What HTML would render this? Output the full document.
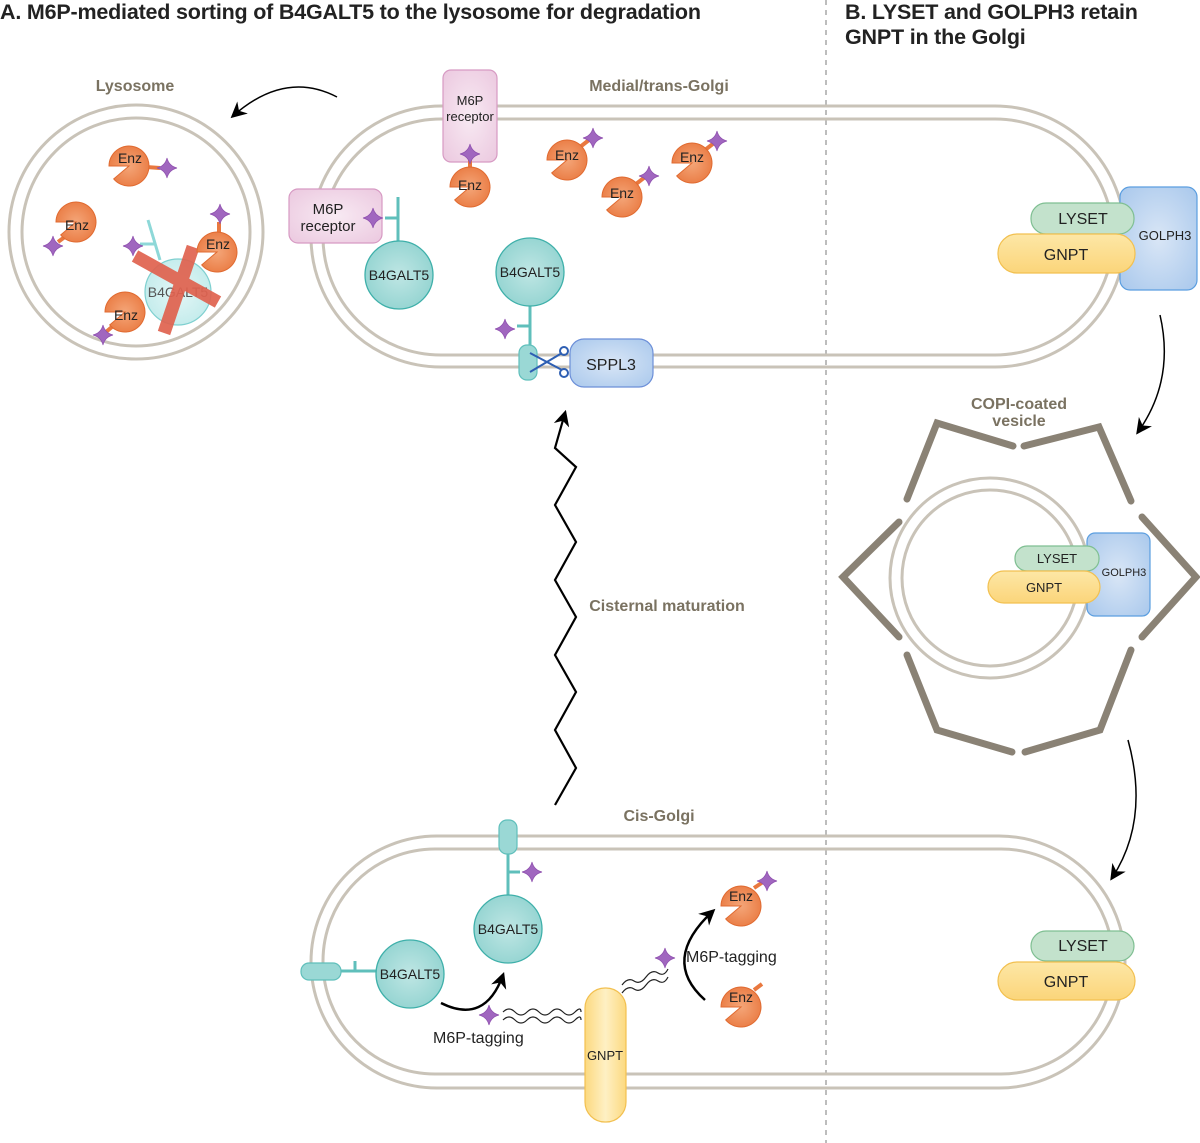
<!DOCTYPE html>
<html><head><meta charset="utf-8"><style>
html,body{margin:0;padding:0;background:#fff;}
svg{display:block;font-family:"Liberation Sans",Arial,sans-serif;}
</style></head><body>
<svg width="1200" height="1143" viewBox="0 0 1200 1143" xmlns="http://www.w3.org/2000/svg">
<defs>
<radialGradient id="cy" cx="50%" cy="50%" r="60%"><stop offset="0" stop-color="#bfe6e4"/><stop offset="1" stop-color="#8fd2cf"/></radialGradient>
<radialGradient id="cyl" cx="50%" cy="50%" r="60%"><stop offset="0" stop-color="#e4f7f7"/><stop offset="1" stop-color="#bfeaea"/></radialGradient>
<radialGradient id="or" cx="50%" cy="50%" r="60%"><stop offset="0" stop-color="#f4a679"/><stop offset="1" stop-color="#e9783f"/></radialGradient>
<radialGradient id="pk" cx="50%" cy="50%" r="70%"><stop offset="0" stop-color="#f8eaf3"/><stop offset="1" stop-color="#ebc8df"/></radialGradient>
<radialGradient id="bl" cx="50%" cy="50%" r="70%"><stop offset="0" stop-color="#d9e6f6"/><stop offset="1" stop-color="#a9c8ec"/></radialGradient>
<linearGradient id="ye" x1="0" y1="0" x2="0" y2="1"><stop offset="0" stop-color="#fde7a6"/><stop offset="1" stop-color="#fbd57a"/></linearGradient>
<linearGradient id="yev" x1="0" y1="0" x2="1" y2="0"><stop offset="0" stop-color="#fcd97f"/><stop offset=".5" stop-color="#fef0c4"/><stop offset="1" stop-color="#fcd97f"/></linearGradient>
<symbol id="pac" viewBox="-21 -21 42 42" overflow="visible"><path d="M0,0 L-15.3,12.9 A20,20 0 1 0 -20,0 Z" fill="url(#or)" stroke="#e06a30" stroke-width="1"/></symbol>
<symbol id="star" viewBox="-9 -9 18 18" overflow="visible"><path d="M0,-9 Q1.8,-1.8 9,0 Q1.8,1.8 0,9 Q-1.8,1.8 -9,0 Q-1.8,-1.8 0,-9Z" fill="#a066bf" stroke="#8e4fae" stroke-width=".6"/></symbol>
<marker id="ah" viewBox="0 0 10 10" refX="8" refY="5" markerWidth="5" markerHeight="5" orient="auto"><path d="M0,0 L10,5 L0,10 L3,5Z" fill="#000"/></marker>
<marker id="ah2" viewBox="0 0 10 10" refX="8" refY="5" markerWidth="9" markerHeight="9" orient="auto" markerUnits="userSpaceOnUse"><path d="M0,0 L10,5 L0,10 L3,5Z" fill="#000"/></marker>
<marker id="ah3" viewBox="0 0 10 10" refX="8" refY="5" markerWidth="16" markerHeight="16" orient="auto" markerUnits="userSpaceOnUse"><path d="M0,0 L10,5 L0,10 L3,5Z" fill="#000"/></marker>
</defs>

<!-- titles -->
<g font-size="21.5" font-weight="bold" fill="#222" style="letter-spacing:-0.2px">
<text x="0" y="19">A. M6P-mediated sorting of B4GALT5 to the lysosome for degradation</text>
<text x="845" y="19">B. LYSET and GOLPH3 retain</text>
<text x="845" y="44">GNPT in the Golgi</text>
</g>
<line x1="826" y1="0" x2="826" y2="1143" stroke="#bdbdbd" stroke-width="2" stroke-dasharray="5,5"/>

<!-- labels -->
<g font-weight="bold" font-size="16" fill="#7a7261">
<text x="135" y="91" text-anchor="middle">Lysosome</text>
<text x="659" y="91" text-anchor="middle">Medial/trans-Golgi</text>
<text x="659" y="821" text-anchor="middle">Cis-Golgi</text>
<text x="667" y="611" text-anchor="middle">Cisternal maturation</text>
<text x="1019" y="409" text-anchor="middle">COPI-coated</text>
<text x="1019" y="426" text-anchor="middle">vesicle</text>
</g>

<!-- lysosome -->
<circle cx="136" cy="232" r="127" fill="none" stroke="#c9c3b8" stroke-width="3"/>
<circle cx="136" cy="232" r="114" fill="none" stroke="#c9c3b8" stroke-width="3"/>

<!-- Golgi cisternae -->
<g fill="none" stroke="#c9c3b8" stroke-width="3">
<rect x="311" y="106" width="814" height="261" rx="130"/>
<rect x="323" y="119" width="790" height="236" rx="118"/>
<rect x="311" y="836" width="814" height="252" rx="126"/>
<rect x="323" y="849" width="790" height="225" rx="112"/>
</g>

<!-- arrows -->
<g fill="none" stroke="#000" stroke-width="2.2">
<path d="M337,97 Q285,70 233,116" marker-end="url(#ah3)" stroke-width="1.5"/>
<path d="M1160,315 Q1175,380 1138,432" marker-end="url(#ah3)" stroke-width="1.5"/>
<path d="M1128,740 Q1150,820 1112,878" marker-end="url(#ah3)" stroke-width="1.5"/>
<path d="M441,1003 Q485,1025 503,975" marker-end="url(#ah3)" stroke-width="2.5"/>
<path d="M705,1000 Q660,960 713,911" marker-end="url(#ah3)" stroke-width="2.5"/>
<path d="M555,805 L576,768 L555,730 L576,692 L555,655 L576,617 L555,580 L576,542 L555,505 L576,467 L555,448 L565,413" marker-end="url(#ah3)"/>
</g>

<!-- COPI coat -->
<g fill="none" stroke="#8a8275" stroke-width="7" stroke-linecap="round" stroke-linejoin="miter">
<polyline points="1013,446 937,423 907,499"/>
<polyline points="1024,446 1099,427 1131,501"/>
<polyline points="899,522 843,577 899,637"/>
<polyline points="1142,517 1196,577 1142,637"/>
<polyline points="907,655 937,730 1012,752"/>
<polyline points="1025,752 1100,730 1131,650"/>
</g>
<circle cx="990" cy="578" r="100" fill="none" stroke="#c9c3b8" stroke-width="3"/>
<circle cx="990" cy="578" r="88" fill="none" stroke="#c9c3b8" stroke-width="3"/>

<!-- Right-side complexes -->
<rect x="1120" y="187" width="77" height="103" rx="10" fill="url(#bl)" stroke="#5b9ee0" stroke-width="1.2"/>
<rect x="1031" y="203" width="103" height="31" rx="15" fill="#c3e2cc" stroke="#7fbf92" stroke-width="1.2"/>
<rect x="998" y="234" width="137" height="39" rx="19" fill="url(#ye)" stroke="#f2c050" stroke-width="1.2"/>
<text x="1083" y="224" font-size="16" text-anchor="middle" fill="#222">LYSET</text>
<text x="1066" y="260" font-size="16" text-anchor="middle" fill="#222">GNPT</text>
<text x="1165" y="240" font-size="13" text-anchor="middle" fill="#222">GOLPH3</text>

<rect x="1087" y="533" width="63" height="83" rx="8" fill="url(#bl)" stroke="#5b9ee0" stroke-width="1.2"/>
<rect x="1015" y="546" width="84" height="25" rx="12" fill="#c3e2cc" stroke="#7fbf92" stroke-width="1.2"/>
<rect x="988" y="571" width="112" height="32" rx="16" fill="url(#ye)" stroke="#f2c050" stroke-width="1.2"/>
<text x="1057" y="563" font-size="13" text-anchor="middle" fill="#222">LYSET</text>
<text x="1044" y="592" font-size="13" text-anchor="middle" fill="#222">GNPT</text>
<text x="1124" y="576" font-size="11" text-anchor="middle" fill="#222">GOLPH3</text>

<rect x="1031" y="931" width="103" height="30" rx="15" fill="#c3e2cc" stroke="#7fbf92" stroke-width="1.2"/>
<rect x="998" y="962" width="137" height="38" rx="19" fill="url(#ye)" stroke="#f2c050" stroke-width="1.2"/>
<text x="1083" y="951" font-size="16" text-anchor="middle" fill="#222">LYSET</text>
<text x="1066" y="987" font-size="16" text-anchor="middle" fill="#222">GNPT</text>

<!-- M6P receptors -->
<rect x="443" y="70" width="54" height="92" rx="8" fill="url(#pk)" stroke="#d79ac3" stroke-width="1.2"/>
<text x="470" y="105" font-size="13" text-anchor="middle" fill="#222">M6P</text>
<text x="470" y="121" font-size="13" text-anchor="middle" fill="#222">receptor</text>
<rect x="289" y="189" width="93" height="54" rx="9" fill="url(#pk)" stroke="#d79ac3" stroke-width="1.2"/>
<text x="328" y="214" font-size="15" text-anchor="middle" fill="#222">M6P</text>
<text x="328" y="231" font-size="15" text-anchor="middle" fill="#222">receptor</text>

<!-- teal stems -->
<g stroke="#5fbfbb" stroke-width="3" fill="none">
<line x1="398" y1="197" x2="398" y2="242"/>
<path d="M398,218 H385"/>
<line x1="530" y1="306" x2="530" y2="350"/>
<path d="M530,326 H517"/>
<line x1="508" y1="840" x2="508" y2="895"/>
<path d="M508,872 H520"/>
<line x1="340" y1="971" x2="378" y2="971"/>
<path d="M355,971 V961"/>
<line x1="160" y1="260" x2="148" y2="220" stroke="#8ed8d8"/>
<path d="M155,244 H140" stroke="#8ed8d8"/>
</g>
<rect x="519" y="345" width="18" height="35" rx="8" fill="#9ad8d5" stroke="#5fbfbb" stroke-width="1.2"/>
<rect x="499" y="820" width="18" height="34" rx="8" fill="#9ad8d5" stroke="#5fbfbb" stroke-width="1.2"/>
<rect x="301" y="963" width="40" height="17" rx="8" fill="#9ad8d5" stroke="#5fbfbb" stroke-width="1.2"/>

<!-- B4GALT5 circles -->
<g stroke="#3fb0aa" stroke-width="1.3" fill="url(#cy)">
<circle cx="399" cy="275" r="34"/><circle cx="530" cy="272" r="34"/>
<circle cx="410" cy="974" r="34"/><circle cx="508" cy="929" r="34"/>
</g>
<circle cx="178" cy="292" r="33" fill="url(#cyl)" stroke="#7fd0d0" stroke-width="1.2"/>
<g font-size="14" text-anchor="middle" fill="#222">
<text x="399" y="280">B4GALT5</text><text x="530" y="277">B4GALT5</text>
<text x="410" y="979">B4GALT5</text><text x="508" y="934">B4GALT5</text>
<text x="178" y="297" fill="#555">B4GALT5</text>
</g>
<g stroke="#e0624f" stroke-width="13" opacity=".92">
<line x1="135" y1="256" x2="218" y2="302"/><line x1="193" y1="247" x2="164" y2="333"/>
</g>

<!-- SPPL3 and scissors -->
<rect x="570" y="339" width="83" height="48" rx="14" fill="url(#bl)" stroke="#6c8fd8" stroke-width="1.2"/>
<text x="611" y="370" font-size="16" text-anchor="middle" fill="#222">SPPL3</text>
<g stroke="#2e5fb3" stroke-width="2" fill="none">
<line x1="530" y1="353" x2="562" y2="370"/><line x1="530" y1="372" x2="562" y2="353"/>
<circle cx="564" cy="351" r="4"/><circle cx="564" cy="373" r="4"/>
</g>

<!-- GNPT cis -->
<rect x="585" y="988" width="41" height="134" rx="20" fill="url(#yev)" stroke="#f2c050" stroke-width="1.2"/>
<text x="605" y="1060" font-size="13" text-anchor="middle" fill="#222">GNPT</text>

<!-- wavy lines -->
<g stroke="#222" stroke-width="1.2" fill="none">
<path d="M503,1012 q6,-6 12,0 t12,0 t12,0 t12,0 t12,0 t12,0 t6,0"/>
<path d="M503,1020 q6,-6 12,0 t12,0 t12,0 t12,0 t12,0 t12,0 t6,0"/>
<path d="M622,985 q6,-8 12,-4 t12,-4 t12,-4 t10,-4"/>
<path d="M622,993 q6,-8 12,-4 t12,-4 t12,-4 t10,-4"/>
</g>

<!-- Enz stalks -->
<g stroke="#e9783f" stroke-width="4">
<line x1="146" y1="167" x2="160" y2="168"/>
<line x1="66" y1="236" x2="58" y2="242"/>
<line x1="219" y1="233" x2="219" y2="222"/>
<line x1="113" y1="326" x2="106" y2="332"/>
<line x1="470" y1="170" x2="470" y2="160"/>
<line x1="580" y1="147" x2="589" y2="140"/>
<line x1="636" y1="184" x2="645" y2="177"/>
<line x1="705" y1="150" x2="714" y2="143"/>
<line x1="754" y1="888" x2="763" y2="882"/>
<line x1="754" y1="990" x2="762" y2="984"/>
</g>
<g>
<use href="#pac" x="108" y="145" width="42" height="42"/>
<use href="#pac" x="55" y="201" width="42" height="42"/>
<use href="#pac" x="196" y="231" width="42" height="42"/>
<use href="#pac" x="104" y="291" width="42" height="42"/>
<use href="#pac" x="449" y="166" width="42" height="42"/>
<use href="#pac" x="546" y="139" width="42" height="42"/>
<use href="#pac" x="601" y="176" width="42" height="42"/>
<use href="#pac" x="671" y="142" width="42" height="42"/>
<use href="#pac" x="720" y="885" width="42" height="42"/>
<use href="#pac" x="720" y="986" width="42" height="42"/>
</g>
<g font-size="14" text-anchor="middle" fill="#222">
<text x="130" y="163">Enz</text><text x="77" y="230">Enz</text><text x="218" y="249">Enz</text>
<text x="126" y="320">Enz</text><text x="470" y="190">Enz</text><text x="567" y="160">Enz</text>
<text x="622" y="198">Enz</text><text x="692" y="162">Enz</text><text x="741" y="901">Enz</text>
<text x="741" y="1002">Enz</text>
</g>

<!-- stars -->
<g>
<use href="#star" x="157" y="158" width="20" height="20"/>
<use href="#star" x="43" y="236" width="20" height="20"/>
<use href="#star" x="210" y="204" width="20" height="20"/>
<use href="#star" x="93" y="325" width="20" height="20"/>
<use href="#star" x="123" y="236" width="20" height="20"/>
<use href="#star" x="460" y="144" width="20" height="20"/>
<use href="#star" x="583" y="128" width="20" height="20"/>
<use href="#star" x="639" y="166" width="20" height="20"/>
<use href="#star" x="707" y="131" width="20" height="20"/>
<use href="#star" x="363" y="208" width="20" height="20"/>
<use href="#star" x="495" y="319" width="20" height="20"/>
<use href="#star" x="522" y="862" width="20" height="20"/>
<use href="#star" x="757" y="871" width="20" height="20"/>
<use href="#star" x="479" y="1005" width="20" height="20"/>
<use href="#star" x="655" y="948" width="20" height="20"/>
</g>

<g font-size="16" fill="#222">
<text x="433" y="1043">M6P-tagging</text>
<text x="686" y="962">M6P-tagging</text>
</g>
</svg>
</body></html>
